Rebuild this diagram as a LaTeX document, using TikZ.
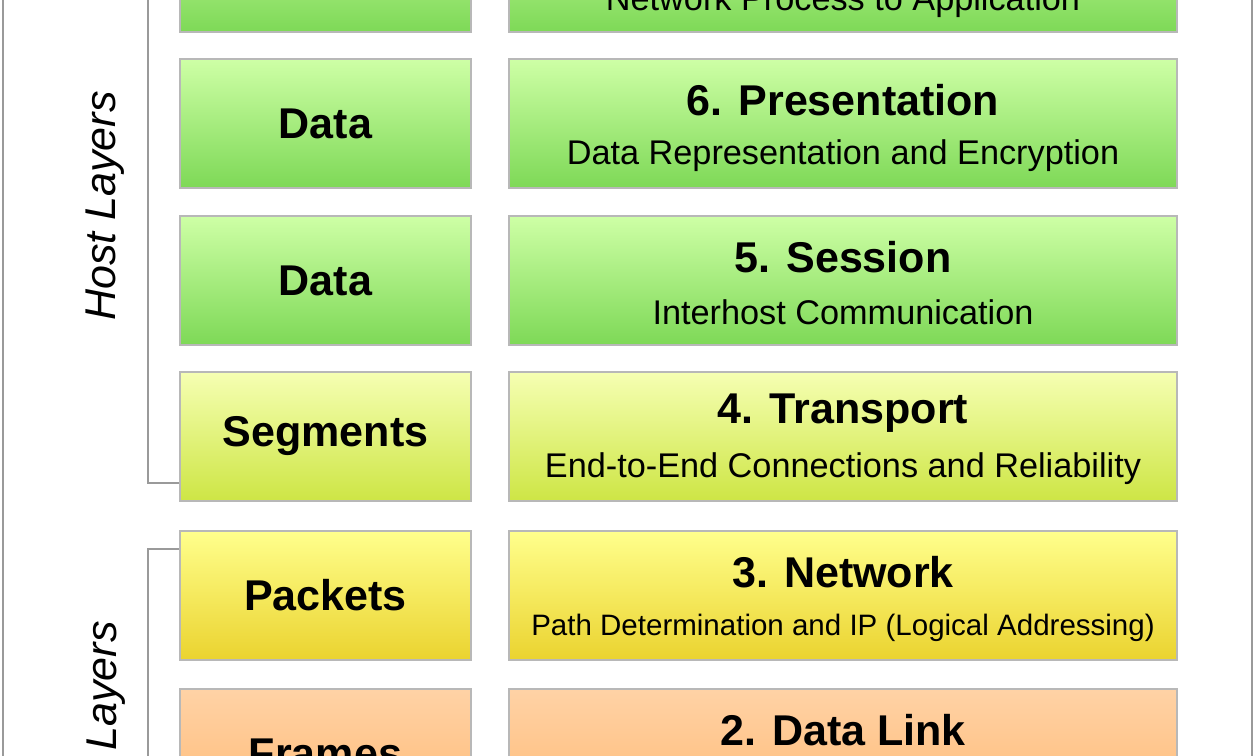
\documentclass[tikz,border=0pt]{standalone}
\usepackage{fontspec}
\setmainfont{Liberation Sans}
\usetikzlibrary{positioning}

\definecolor{frame}{HTML}{9A9A9A}
\tikzset{
	layerbox/.style={draw=frame!70, line width=1.2pt, minimum height=2.58cm, inner sep=0pt},
	pdu/.style={layerbox, minimum width=5.82cm, font=\bfseries\fontsize{24.5}{28}\selectfont},
	layer/.style={layerbox, minimum width=13.36cm},
	green/.style={top color=green!40!lime!35!white, bottom color=green!60!lime!60!white!85!black},
	lime/.style={top color=yellow!50!lime!30!white, bottom color=yellow!40!lime!70!white!90!black},
	sand/.style={top color=yellow!45!white, bottom color=yellow!75!orange!80!white!92!black},
	peach/.style={top color=orange!35!white, bottom color=orange!55!white},
	head/.style={font=\bfseries\fontsize{24.5}{28}\selectfont},
	sub/.style={font=\fontsize{19.5}{22}\selectfont},
	side/.style={rotate=90, anchor=east, font=\itshape\fontsize{24.5}{28}\selectfont},
}

\begin{document}
\begin{tikzpicture}[x=0.02cm, y=-0.02cm]
	\useasboundingbox (0,0) rectangle (1256,756);
	\draw[frame, line width=1.5pt] (3,-20) -- (3,780) (1252,-20) -- (1252,780);

	% left column: data units
	\node[pdu, green] (p7) at (325.5,-32.5) {Data};
	\node[pdu, green] (p6) at (325.5,123.5) {Data};
	\node[pdu, green] (p5) at (325.5,280.5) {Data};
	\node[pdu, lime] (p4) at (325.5,436.5) {Segments};
	\node[pdu, sand] (p3) at (325.5,595.5) {Packets};
	\node[pdu, peach] (p2) at (325.5,753.5) {Frames};

	% right column: layers
	\node[layer, green] (l7) at (843,-32.5) {};
	\node[layer, green] (l6) at (843,123.5) {};
	\node[layer, green] (l5) at (843,280.5) {};
	\node[layer, lime] (l4) at (843,436.5) {};
	\node[layer, sand] (l3) at (843,595.5) {};
	\node[layer, peach] (l2) at (843,753.5) {};

	\node[sub] at (843,2) {Network Process to Application};
	\foreach \n/\h/\s in {6/6. Presentation/Data Representation and Encryption,
		5/5. Session/Interhost Communication,
		4/4. Transport/End-to-End Connections and Reliability} {
		\node[head] at ([yshift=-0.84cm]l\n.north) {\h};
		\node[sub] at ([yshift=-1.95cm]l\n.north) {\s};
	}
	\node[head] at ([yshift=-0.84cm]l3.north) {3. Network};
	\node[sub, font=\fontsize{16.8}{19}\selectfont] at ([yshift=-1.95cm]l3.north) {Path Determination and IP (Logical Addressing)};
	\node[head] at ([yshift=-0.84cm]l2.north) {2. Data Link};

	% brackets
	\coordinate (htop) at (148,-20);
	\coordinate (hbot) at (148,483);
	\coordinate (mtop) at (148,549);
	\coordinate (mbot) at (148,780);
	\draw[frame, line width=1.2pt] (htop) -- (hbot) -- (hbot -| p4.west);
	\draw[frame, line width=1.2pt] (mtop -| p3.west) -- (mtop) -- (mbot);
	\node[side] (host) at (105,85) {Host Layers};
	\node[side] (media) at (105,615) {Media Layers};
\end{tikzpicture}
\end{document}
